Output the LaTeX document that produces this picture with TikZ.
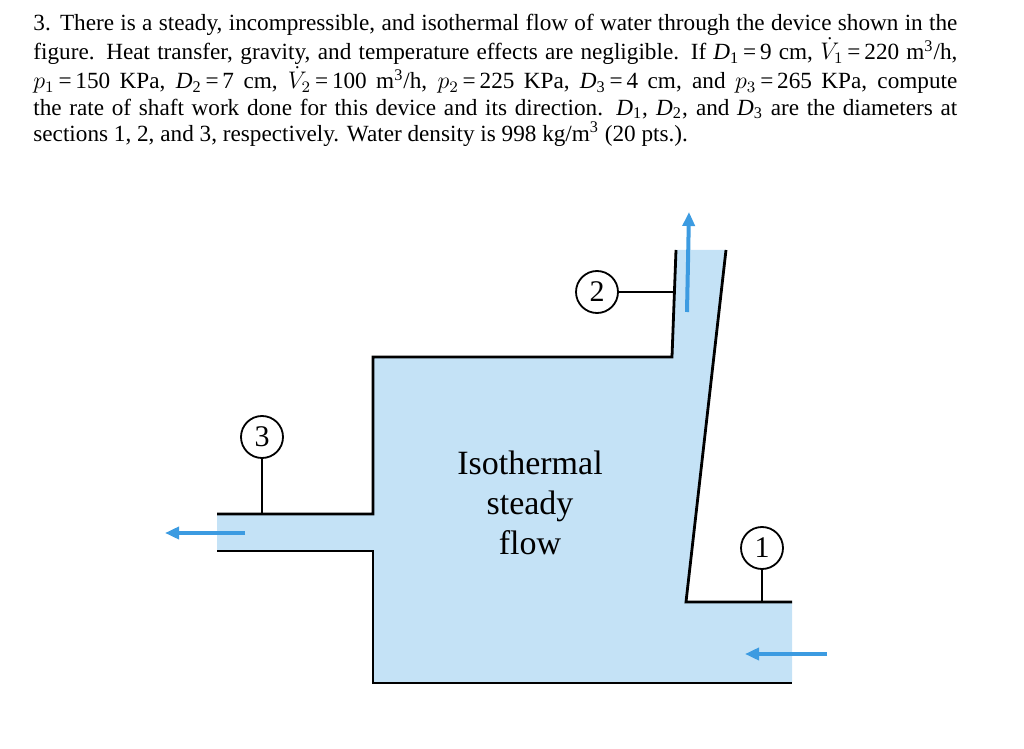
\documentclass[tikz,border=0pt]{standalone}
\usepackage{fontspec}
\setmainfont{Liberation Serif}
\usetikzlibrary{arrows.meta}
\definecolor{water}{RGB}{196,226,246}
\definecolor{flowc}{RGB}{60,155,225}
\newcommand{\eqq}{\,=\,}
\tikzset{
  wall/.style={line width=1.4pt,black},
  thin/.style={line width=0.9pt,black},
  tag/.style={circle,draw,line width=0.9pt,minimum size=21pt,inner sep=0pt,font=\fontsize{15}{15}\selectfont},
  flow/.style={flowc,line width=2pt,-{Triangle[length=7pt,width=6pt]}}
}
\begin{document}
\begin{tikzpicture}[x=0.5pt,y=-0.5pt]
\useasboundingbox (0,0) rectangle (1024,749);
\node[anchor=north west,inner sep=0pt,text width=462pt,align=justify,font=\fontsize{11.6}{13.2}\selectfont] (txt) at (33,14)
{3. There is a steady, incompressible, and isothermal flow of water through the device shown in the\linebreak
figure. Heat transfer, gravity, and temperature effects are negligible. If \textit{D}\textsubscript{1}\eqq 9 cm, $\dot{V}_1$\eqq 220 m\textsuperscript{3}/h,\linebreak
$p_1$\eqq 150 KPa, \textit{D}\textsubscript{2}\eqq 7 cm, $\dot{V}_2$\eqq 100 m\textsuperscript{3}/h, $p_2$\eqq 225 KPa, \textit{D}\textsubscript{3}\eqq 4 cm, and $p_3$\eqq 265 KPa, compute\linebreak
the rate of shaft work done for this device and its direction. \textit{D}\textsubscript{1}, \textit{D}\textsubscript{2}, and \textit{D}\textsubscript{3} are the diameters at\linebreak
sections 1, 2, and 3, respectively. Water density is 998 kg/m\textsuperscript{3} (20 pts.).};
% fluid
\fill[water] (217,514) -- (373,514) -- (373,357) -- (672,357) -- (676,250) -- (726,250) -- (686,602) -- (792,602) -- (792,683) -- (373,683) -- (373,551) -- (217,551) -- cycle;
% walls
\draw[wall] (217,514) -- (373,514) -- (373,357) -- (672,357) -- (676,250);
\draw[wall] (726,250) -- (686,602) -- (792,602);
\draw[wall] (217,551) -- (373,551) -- (373,683) -- (792,683);
% tags
\node[tag] (t3) at (262,437) {3};
\node[tag] (t2) at (597,292) {2};
\node[tag] (t1) at (762,548) {1};
\coordinate (s3) at (262,514);
\coordinate (s2) at (674,292);
\coordinate (s1) at (762,602);
\draw[thin] (t3) -- (s3);
\draw[thin] (t2) -- (s2);
\draw[thin] (t1) -- (s1);
% flow arrows
\coordinate (a2s) at (687,312); \coordinate (a2e) at (689,212);
\coordinate (a3s) at (245,533); \coordinate (a3e) at (165,533);
\coordinate (a1s) at (827,654); \coordinate (a1e) at (745,654);
\draw[flow] (a2s) -- (a2e);
\draw[flow] (a3s) -- (a3e);
\draw[flow] (a1s) -- (a1e);
\node[align=center,font=\fontsize{17}{20}\selectfont] (lab) at (530,503) {Isothermal\\steady\\flow};
\end{tikzpicture}
\end{document}
